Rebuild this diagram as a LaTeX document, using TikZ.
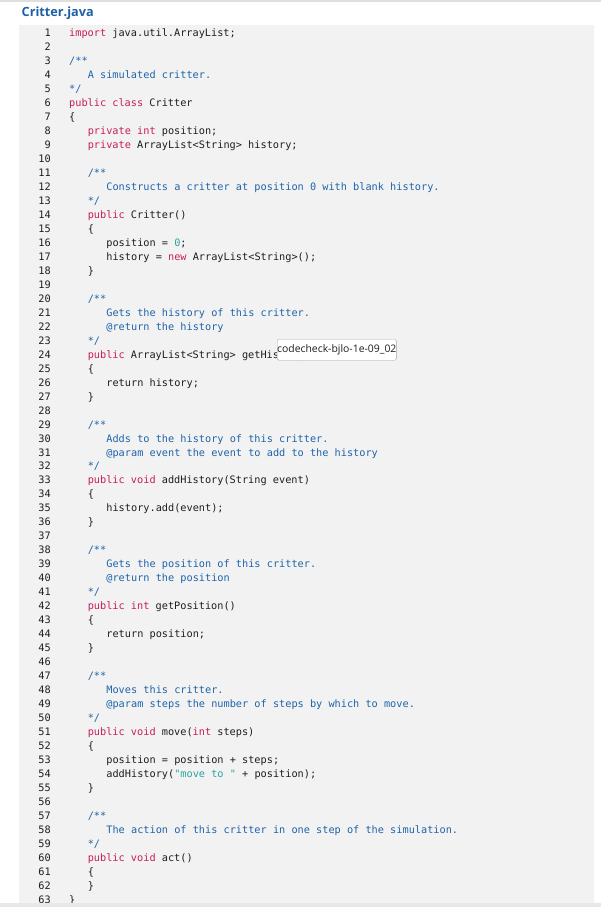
\documentclass[tikz,border=0pt]{standalone}
\usepackage{fontspec}
\setmainfont{Open Sans}
\newfontfamily\codefont{DejaVu Sans Mono}
\definecolor{kwc}{RGB}{200,30,90}
\definecolor{cmc}{RGB}{30,100,170}
\definecolor{stc}{RGB}{40,165,160}
\definecolor{txc}{RGB}{30,30,30}
\definecolor{titlec}{RGB}{30,95,165}
\newcommand\kw[1]{\textcolor{kwc}{#1}}
\newcommand\cm[1]{\textcolor{cmc}{#1}}
\newcommand\st[1]{\textcolor{stc}{#1}}
\tikzset{codetext/.style={inner sep=0pt,anchor=base west,font=\codefont\fontsize{10.25}{12}\selectfont,text=txc},
numtext/.style={inner sep=0pt,anchor=base east,font=\codefont\fontsize{10.25}{12}\selectfont,text=txc}}
\newcommand\CL[3]{%
 \node[numtext] (n#1) at (51,{33+13.98*(#1-1)+3.6}) {#1};
 \node[codetext] (c#1) at ({69+18.6*#2},{33+13.98*(#1-1)+3.6}) {#3};}
\newcommand\NL[1]{\node[numtext] (n#1) at (51,{33+13.98*(#1-1)+3.6}) {#1};}
\begin{document}
\begin{tikzpicture}[x=1pt,y=-1pt]
\useasboundingbox (0,0) rectangle (601,907);
\fill[white] (0,0) rectangle (601,907);
\draw[gray!25,line width=1.2pt] (0,1) -- (601,1);
\fill[black!5] (19,25) rectangle (594,903);
\node[inner sep=0pt,anchor=base west,font=\bfseries\fontsize{12.7}{14}\selectfont,text=titlec] (title) at (21.5,17) {Critter.java};
\CL{1}{0}{\kw{import} java.util.ArrayList;}
\NL{2}
\CL{3}{0}{\cm{/**}}
\CL{4}{1}{\cm{A simulated critter.}}
\CL{5}{0}{\cm{*/}}
\CL{6}{0}{\kw{public class} Critter}
\CL{7}{0}{\{}
\CL{8}{1}{\kw{private int} position;}
\CL{9}{1}{\kw{private} ArrayList<String> history;}
\NL{10}
\CL{11}{1}{\cm{/**}}
\CL{12}{2}{\cm{Constructs a critter at position 0 with blank history.}}
\CL{13}{1}{\cm{*/}}
\CL{14}{1}{\kw{public} Critter()}
\CL{15}{1}{\{}
\CL{16}{2}{position = \st{0};}
\CL{17}{2}{history = \kw{new} ArrayList<String>();}
\CL{18}{1}{\}}
\NL{19}
\CL{20}{1}{\cm{/**}}
\CL{21}{2}{\cm{Gets the history of this critter.}}
\CL{22}{2}{\cm{@return the history}}
\CL{23}{1}{\cm{*/}}
\CL{24}{1}{\kw{public} ArrayList<String> getHistory()}
\CL{25}{1}{\{}
\CL{26}{2}{return history;}
\CL{27}{1}{\}}
\NL{28}
\CL{29}{1}{\cm{/**}}
\CL{30}{2}{\cm{Adds to the history of this critter.}}
\CL{31}{2}{\cm{@param event the event to add to the history}}
\CL{32}{1}{\cm{*/}}
\CL{33}{1}{\kw{public void} addHistory(String event)}
\CL{34}{1}{\{}
\CL{35}{2}{history.add(event);}
\CL{36}{1}{\}}
\NL{37}
\CL{38}{1}{\cm{/**}}
\CL{39}{2}{\cm{Gets the position of this critter.}}
\CL{40}{2}{\cm{@return the position}}
\CL{41}{1}{\cm{*/}}
\CL{42}{1}{\kw{public int} getPosition()}
\CL{43}{1}{\{}
\CL{44}{2}{return position;}
\CL{45}{1}{\}}
\NL{46}
\CL{47}{1}{\cm{/**}}
\CL{48}{2}{\cm{Moves this critter.}}
\CL{49}{2}{\cm{@param steps the number of steps by which to move.}}
\CL{50}{1}{\cm{*/}}
\CL{51}{1}{\kw{public void} move(\kw{int} steps)}
\CL{52}{1}{\{}
\CL{53}{2}{position = position + steps;}
\CL{54}{2}{addHistory(\st{"move to "} + position);}
\CL{55}{1}{\}}
\NL{56}
\CL{57}{1}{\cm{/**}}
\CL{58}{2}{\cm{The action of this critter in one step of the simulation.}}
\CL{59}{1}{\cm{*/}}
\CL{60}{1}{\kw{public void} act()}
\CL{61}{1}{\{}
\CL{62}{1}{\}}
\CL{63}{0}{\}}
\fill[black!9] (0,903) rectangle (601,907);
\node[draw=gray!70,fill=white,rounded corners=1.5pt,anchor=north west,inner xsep=0pt,inner ysep=2pt,minimum width=115pt,minimum height=21pt,font=\fontsize{10.4}{12}\selectfont,text=txc] (tip) at (277,339) {codecheck-bjlo-1e-09\_02};
\end{tikzpicture}
\end{document}
